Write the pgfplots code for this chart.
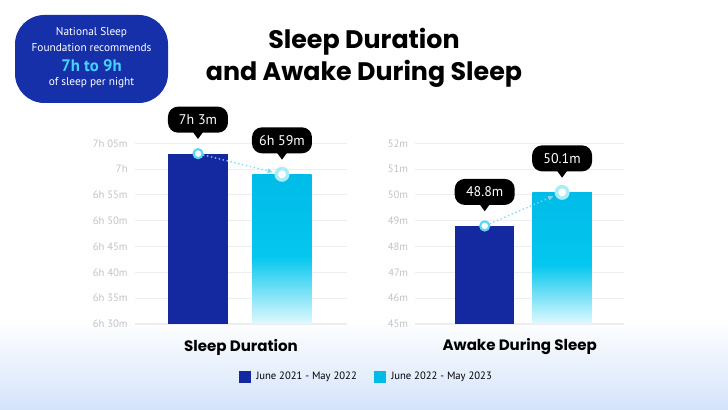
\documentclass[border=0pt]{standalone}
\usepackage{pgfplots}
\pgfplotsset{compat=1.18}
\usepackage{fontspec}
\setmainfont{PT Sans}
\newfontfamily\titlefont{Poppins}
\usetikzlibrary{arrows.meta}

\definecolor{dblue}{HTML}{1428A0}
\definecolor{boxblue}{HTML}{1530A8}
\definecolor{ctop}{HTML}{00BBE8}
\definecolor{cmid}{HTML}{04C7EE}
\definecolor{cbot}{HTML}{E2F9FE}
\definecolor{legcyan}{HTML}{00BBE8}
\definecolor{recocyan}{HTML}{45D4FF}
\definecolor{ringA}{HTML}{5CD6F2}
\definecolor{ringB}{HTML}{A8ECF8}
\definecolor{arrowc}{HTML}{7FD8F0}
\definecolor{gridgrey}{HTML}{EEEEF0}
\definecolor{tickgrey}{HTML}{C2C2CA}
\definecolor{bgblue}{HTML}{D4E3FA}

% the bar fills 25bp..75bp of the shading; solid cyan over its upper half
\pgfdeclareverticalshading{cyanbar}{100bp}{color(0bp)=(cbot); color(25bp)=(cbot); color(47.5bp)=(cmid); color(75bp)=(ctop); color(100bp)=(ctop)}

\pgfplotsset{
  duo/.style={
    scale only axis,
    height=135.5pt,
    axis line style={draw=none},
    major tick length=0pt,
    xtick=\empty,
    ymajorgrids,
    major grid style={color=gridgrey, line width=0.8pt},
    yticklabel style={font=\fontsize{8}{9}\selectfont, text=tickgrey, xshift=-2pt},
    /pgf/number format/assume math mode=true,
    xlabel style={font=\titlefont\bfseries\fontsize{11.3}{13}\selectfont,
      at={(rel axis cs:0.5,0)}, anchor=center, yshift=-17.25pt},
  },
  smallring/.style={only marks, mark=*, mark size=3.4pt,
    mark options={fill=white, draw=ringA, line width=1.6pt}},
  bigring/.style={only marks, mark=*, mark size=4.3pt,
    mark options={fill=white, draw=ringB, line width=2.6pt}},
  trend/.style={draw=arrowc, line width=1pt, dotted,
    -{Latex[length=4pt,width=4pt]}, shorten >=7pt, shorten <=4pt},
}

\newcommand\callout[2]{%
  \fill ([yshift=11pt]#1) -- ([xshift=-4pt,yshift=16.5pt]#1) -- ([xshift=4pt,yshift=16.5pt]#1) -- cycle;
  \node[fill=black, text=white, rounded corners=7.5pt, minimum width=45pt,
    minimum height=19.5pt, inner sep=0pt, font=\fontsize{10.5}{12}\selectfont]
    at ([yshift=25.5pt]#1) {#2};
}

\begin{document}
\begin{tikzpicture}[x=0.75pt, y=0.75pt]
% background
\fill[white] (0,0) rectangle (728,410);
\shade[top color=white, bottom color=bgblue] (0,0) rectangle (728,90);

% recommendation box
\fill[boxblue, rounded corners=22pt] (15,307) rectangle (168,395);
\node[text=white, font=\fontsize{8.5}{10}\selectfont] at (91.5,377) {National Sleep};
\node[text=white, font=\fontsize{8.5}{10}\selectfont] at (91.5,362) {Foundation recommends};
\node[text=recocyan, font=\bfseries\fontsize{12.5}{14}\selectfont] at (91.5,344) {7h to 9h};
\node[text=white, font=\fontsize{8.5}{10}\selectfont] at (91.5,327) {of sleep per night};

% title
\node[font=\titlefont\bfseries\fontsize{19}{22}\selectfont] at (364,368) {Sleep Duration};
\node[font=\titlefont\bfseries\fontsize{19}{22}\selectfont] at (364,336) {and Awake During Sleep};

% sleep duration, minutes past 6h
\begin{axis}[duo,
  at={(101.25pt,64.5pt)}, anchor=south west,
  width=159pt,
  xmin=-0.75, xmax=1.774,
  ymin=30, ymax=65,
  ytick={30,35,40,45,50,55,60,65},
  yticklabels={6h 30m,6h 35m,6h 40m,6h 45m,6h 50m,6h 55m,7h,7h 05m},
  xlabel={Sleep Duration},
]
\addplot[ybar, bar width=44.5pt, fill=dblue, draw=none] coordinates {(0,63)};
\addplot[ybar, bar width=44.5pt, draw=none, shade, shading=cyanbar] coordinates {(1,59)};
\addplot[trend] coordinates {(0,63) (1,59)};
\addplot[smallring] coordinates {(0,63)};
\addplot[bigring] coordinates {(1,59)};
\coordinate (a1) at (axis cs:0,63);
\coordinate (a2) at (axis cs:1,59);
\end{axis}

% awake during sleep, minutes
\begin{axis}[duo,
  at={(311.6pt,64.5pt)}, anchor=south west,
  width=156.4pt,
  xmin=-0.895, xmax=1.80,
  ymin=45, ymax=52,
  ytick={45,46,47,48,49,50,51,52},
  yticklabels={45m,46m,47m,48m,49m,50m,51m,52m},
  xlabel={Awake During Sleep},
]
\addplot[ybar, bar width=44.5pt, fill=dblue, draw=none] coordinates {(0,48.8)};
\addplot[ybar, bar width=44.5pt, draw=none, shade, shading=cyanbar] coordinates {(1,50.1)};
\addplot[trend] coordinates {(0,48.8) (1,50.1)};
\addplot[smallring] coordinates {(0,48.8)};
\addplot[bigring] coordinates {(1,50.1)};
\coordinate (b1) at (axis cs:0,48.8);
\coordinate (b2) at (axis cs:1,50.1);
\end{axis}

\callout{a1}{7h 3m}
\callout{a2}{6h 59m}
\callout{b1}{48.8m}
\callout{b2}{50.1m}

% legend
\fill[dblue] (239,27) rectangle (251,39);
\node[anchor=west, inner sep=0pt, font=\fontsize{8}{9}\selectfont] at (256,33) {June 2021 - May 2022};
\fill[legcyan] (374,27) rectangle (386,39);
\node[anchor=west, inner sep=0pt, font=\fontsize{8}{9}\selectfont] at (391,33) {June 2022 - May 2023};

\pgfresetboundingbox
\useasboundingbox (0,0) rectangle (728,410);
\end{tikzpicture}
\end{document}
